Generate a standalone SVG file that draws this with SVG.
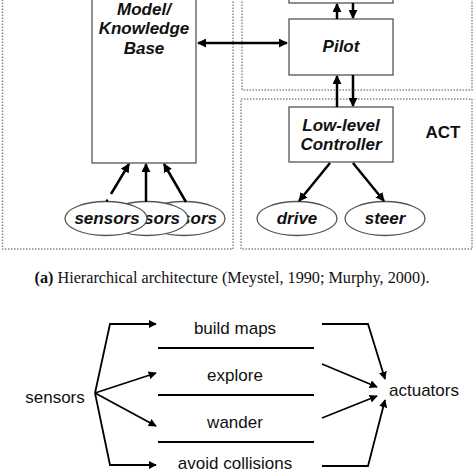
<svg xmlns="http://www.w3.org/2000/svg" width="474" height="474" viewBox="0 0 474 474">
<style>
.frame{fill:none;stroke:#8a8a8a;stroke-width:1.5;stroke-dasharray:1.5 1.5}
.box{fill:#fff;stroke:#555;stroke-width:1.3}
.ell{fill:#fff;stroke:#555;stroke-width:1.3}
.lbl{font-family:"Liberation Sans",Arial,sans-serif;font-weight:bold;font-style:italic;font-size:17px;fill:#111;text-anchor:middle}
.lbe{font-family:"Liberation Sans",Arial,sans-serif;font-weight:bold;font-style:italic;font-size:17px;fill:#111;text-anchor:end}
.act{font-family:"Liberation Sans",Arial,sans-serif;font-weight:bold;font-size:17px;fill:#111;text-anchor:middle}
.cap{font-family:"Liberation Serif","Times New Roman",serif;font-size:16.2px;fill:#111;text-anchor:middle}
.beh{font-family:"Liberation Sans",Arial,sans-serif;font-size:17px;fill:#111;text-anchor:middle}
.a{fill:none;stroke:#000;stroke-width:2.5}
.b{fill:none;stroke:#000;stroke-width:1.8}
.sep{stroke:#000;stroke-width:1.8}
</style>
<defs>
<marker id="ah" viewBox="0 0 10 10" refX="9" refY="5" markerWidth="3.6" markerHeight="3.6" orient="auto-start-reverse" markerUnits="strokeWidth">
<path d="M0,0 L10,5 L0,10 z" fill="#000"/>
</marker>
<marker id="ah2" viewBox="0 0 10 10" refX="9" refY="5" markerWidth="4.5" markerHeight="4.5" orient="auto" markerUnits="strokeWidth">
<path d="M0,0 L10,5 L0,10 z" fill="#000"/>
</marker>
</defs>
<rect width="474" height="474" fill="#fff"/>
<g id="frames">
<rect class="frame" x="2.5" y="-20" width="230.5" height="269"/>
<rect class="frame" x="242" y="-20" width="230" height="110"/>
<rect class="frame" x="241" y="99" width="231" height="150"/>
</g>
<g id="model">
<rect class="box" x="92" y="-20" width="104" height="183"/>
<text class="lbl" x="144" y="15">Model/</text>
<text class="lbl" x="144" y="34">Knowledge</text>
<text class="lbl" x="144" y="54">Base</text>
</g>
<g id="topbox"><rect class="box" x="289" y="-20" width="104" height="23"/></g>
<g id="pilot">
<rect class="box" x="289" y="19" width="104" height="56"/>
<text class="lbl" x="341" y="52">Pilot</text>
</g>
<g id="controller">
<rect class="box" x="289" y="107" width="104" height="55"/>
<text class="lbl" x="341" y="131">Low-level</text>
<text class="lbl" x="341" y="150">Controller</text>
</g>
<text class="act" x="443" y="138">ACT</text>
<g id="sensors3"><ellipse class="ell" cx="184" cy="218.5" rx="41" ry="17"/><text class="lbe" x="217" y="224">sors</text></g>
<g id="sensors2"><ellipse class="ell" cx="147" cy="218.5" rx="41" ry="17"/><text class="lbe" x="180" y="224">sors</text></g>
<g id="sensors1"><ellipse class="ell" cx="106" cy="218.5" rx="41" ry="17"/><text class="lbl" x="107" y="224">sensors</text></g>
<g id="drive"><ellipse class="ell" cx="297" cy="218.5" rx="40" ry="17"/><text class="lbl" x="297" y="224">drive</text></g>
<g id="steer"><ellipse class="ell" cx="385" cy="218.5" rx="40" ry="17"/><text class="lbl" x="385" y="224">steer</text></g>
<g id="connectors">
<line class="a" x1="198" y1="43" x2="287" y2="43" marker-start="url(#ah)" marker-end="url(#ah)"/>
<line class="a" x1="337" y1="19" x2="337" y2="4" marker-end="url(#ah)"/>
<line class="a" x1="353" y1="3" x2="353" y2="18" marker-end="url(#ah)"/>
<line class="a" x1="337" y1="107" x2="337" y2="76" marker-end="url(#ah)"/>
<line class="a" x1="353" y1="75" x2="353" y2="106" marker-end="url(#ah)"/>
<line class="a" x1="111" y1="194" x2="129" y2="164" marker-end="url(#ah)"/>
<circle cx="107" cy="200.5" r="1.2" fill="#000"/>
<line class="a" x1="146" y1="202" x2="146" y2="164" marker-end="url(#ah)"/>
<line class="a" x1="186" y1="202" x2="164" y2="164" marker-end="url(#ah)"/>
<line class="a" x1="330" y1="163" x2="299" y2="201" marker-end="url(#ah)"/>
<line class="a" x1="353" y1="163" x2="384" y2="201" marker-end="url(#ah)"/>
</g>
<text class="cap" x="232" y="283"><tspan font-weight="bold">(a)</tspan> Hierarchical architecture (Meystel, 1990; Murphy, 2000).</text>
<g id="behaviours">
<text class="beh" x="235" y="334">build maps</text>
<text class="beh" x="235" y="381">explore</text>
<text class="beh" x="235" y="428">wander</text>
<text class="beh" x="235" y="469">avoid collisions</text>
<text class="beh" x="55" y="403">sensors</text>
<text class="beh" x="424" y="396">actuators</text>
<line class="sep" x1="158" y1="348" x2="314" y2="348"/>
<line class="sep" x1="158" y1="395" x2="314" y2="395"/>
<line class="sep" x1="158" y1="442" x2="314" y2="442"/>
</g>
<g id="connectors2">
<polyline class="b" points="95,393 110,324 156,324" marker-end="url(#ah2)"/>
<polyline class="b" points="95,393 156,373" marker-end="url(#ah2)"/>
<polyline class="b" points="95,393 156,426" marker-end="url(#ah2)"/>
<polyline class="b" points="95,393 110,465 156,465" marker-end="url(#ah2)"/>
<polyline class="b" points="322,324 368,324 385,379" marker-end="url(#ah2)"/>
<polyline class="b" points="322,364 377,387" marker-end="url(#ah2)"/>
<polyline class="b" points="322,418 377,396" marker-end="url(#ah2)"/>
<polyline class="b" points="322,466 368,466 385,400" marker-end="url(#ah2)"/>
</g>
</svg>
